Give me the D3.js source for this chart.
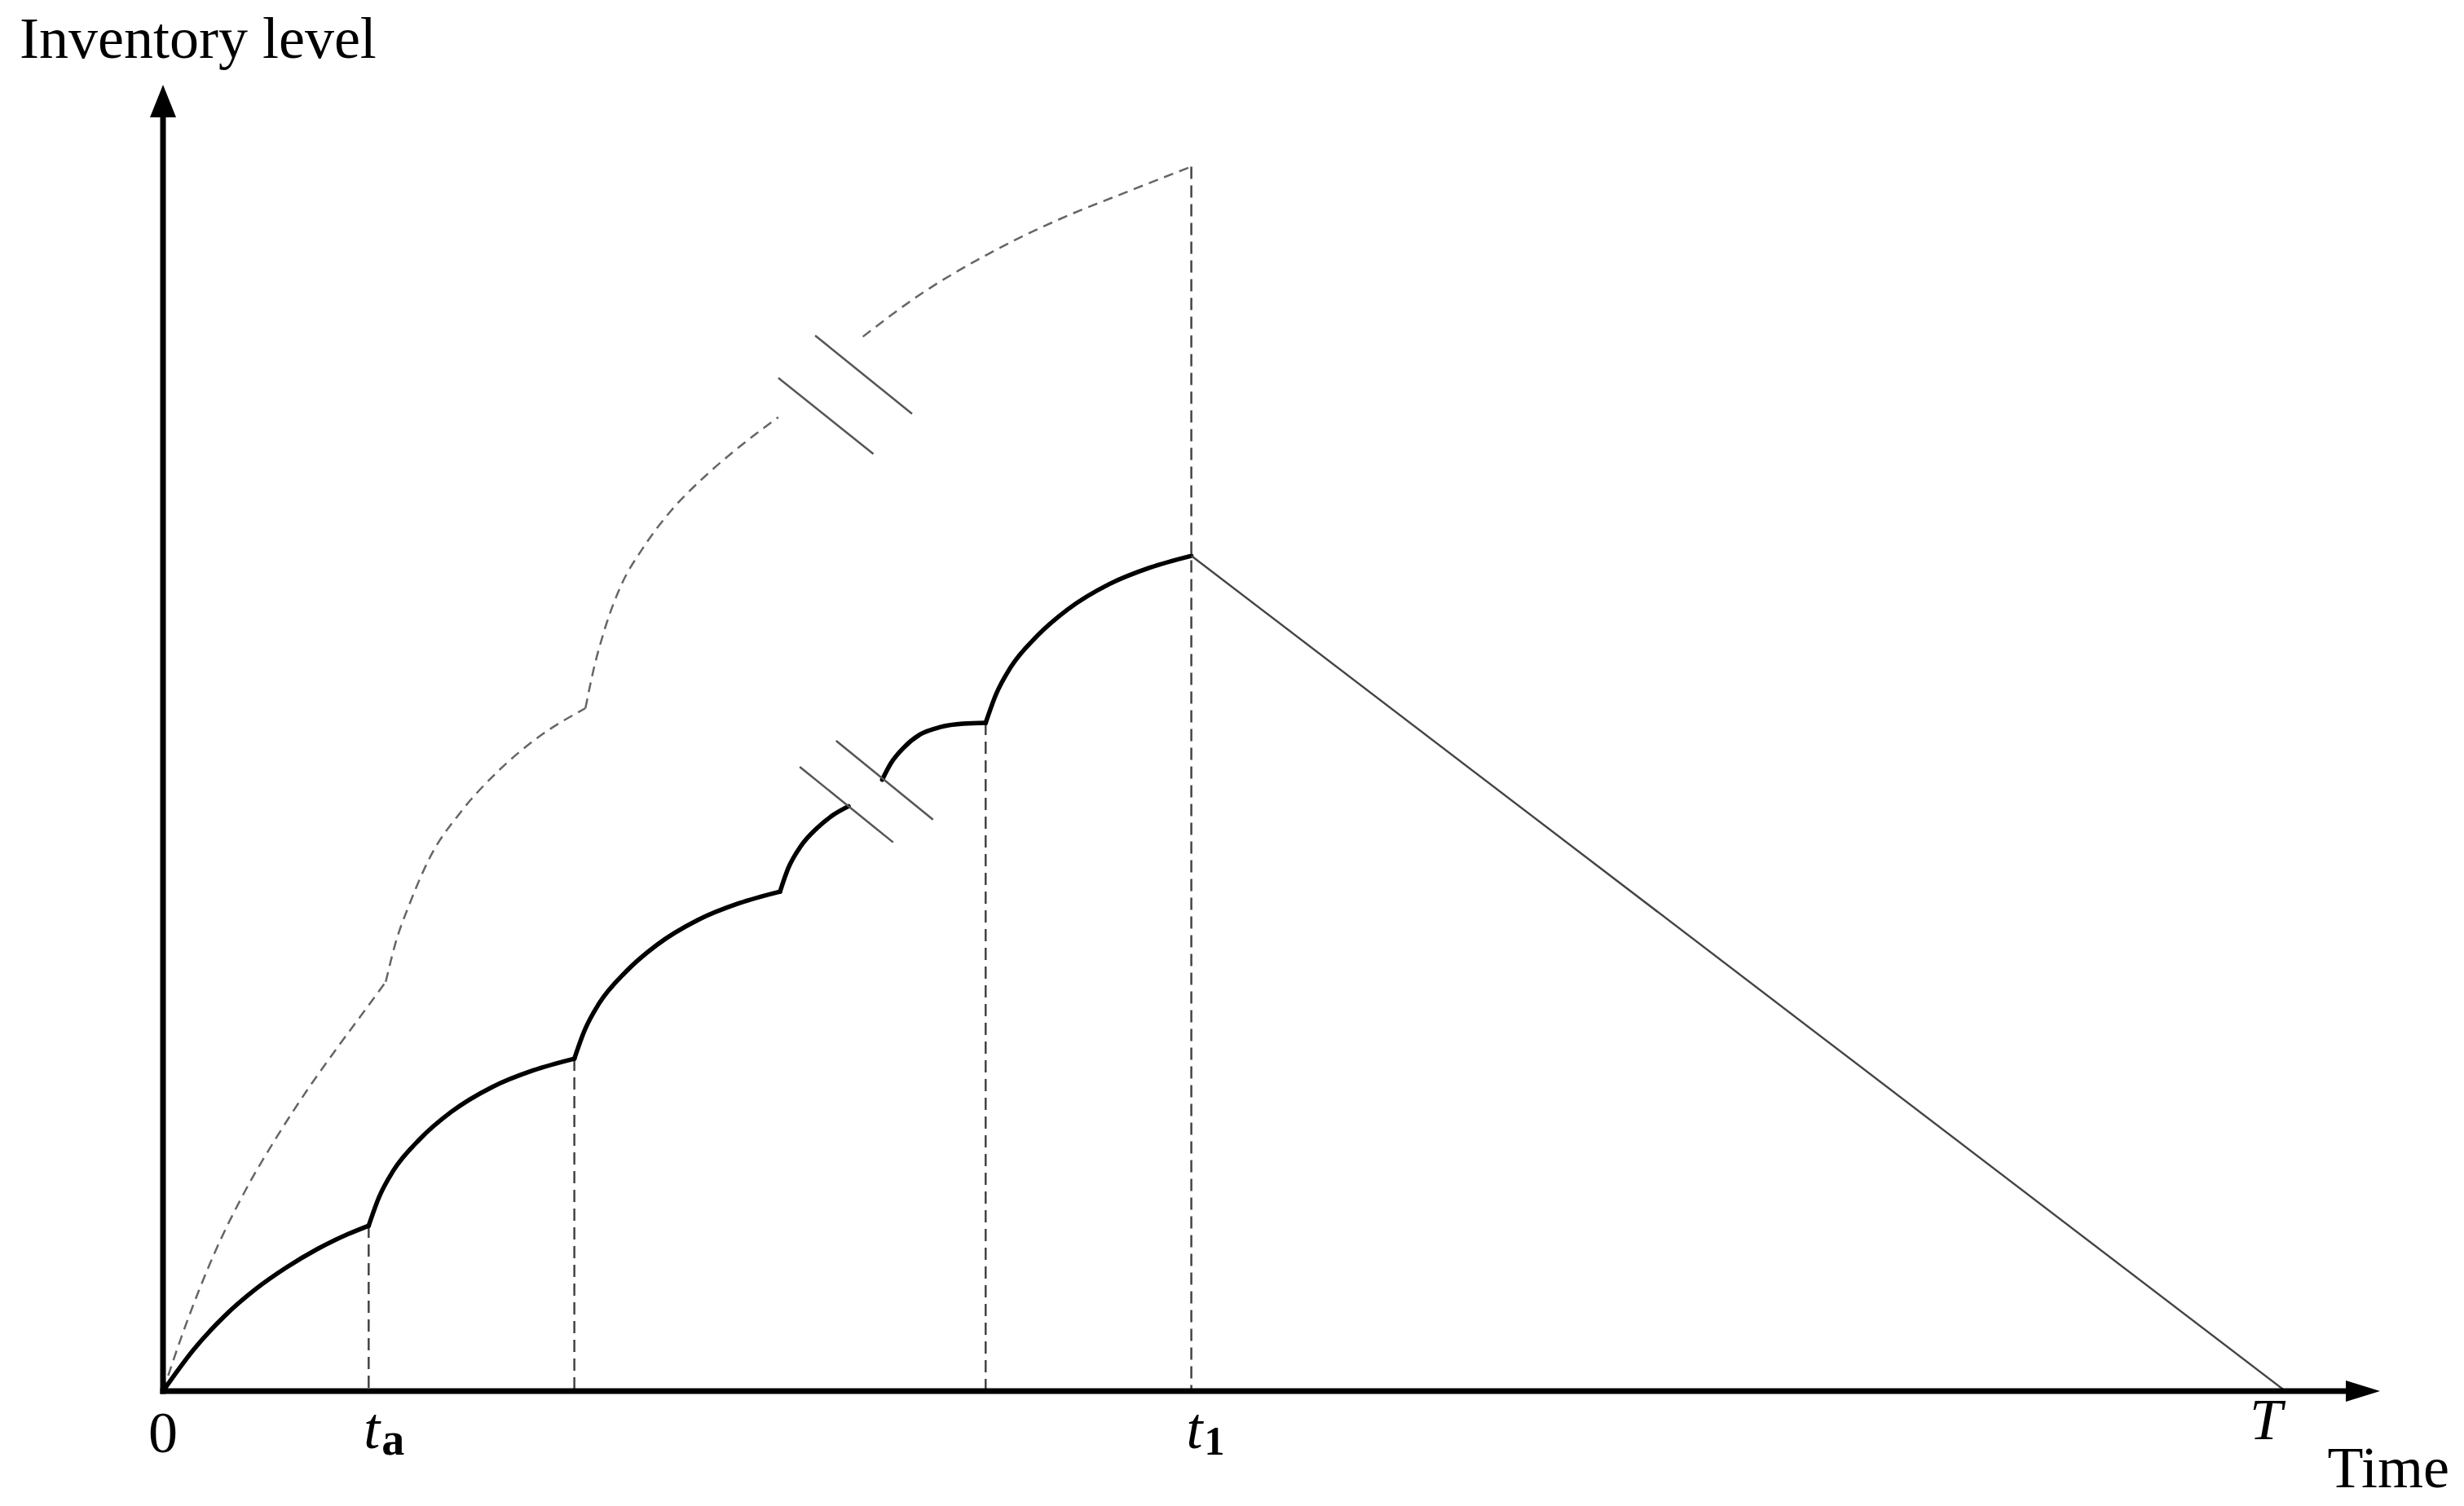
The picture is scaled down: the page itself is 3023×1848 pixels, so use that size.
<!DOCTYPE html>
<html lang="en">
  <head>
    <meta charset="utf-8" />
    <title>Inventory level over time</title>
    <script src="https://d3js.org/d3.v7.min.js"></script>
    <style>
      body { margin: 0; background: #fff; }
      svg { display: block; }
      text { font-family: "Liberation Serif", "Times New Roman", serif; fill: #000; }
    </style>
  </head>
  <body>
    <div id="chart"></div>
    <script>
      // [time, inventory level] (ta = 1 time unit)
      const solidArc1 = [[0, 0], [0.15, 0.25], [0.3, 0.45], [0.45, 0.61], [0.6, 0.74], [0.75, 0.85], [0.9, 0.94], [1, 0.99]];
      const solidArc2 = [[1, 0.99], [1.05, 1.16], [1.12, 1.32], [1.25, 1.51], [1.4, 1.67], [1.6, 1.82], [1.8, 1.92], [2, 1.99]];
      const solidArc3 = [[2, 1.99], [2.05, 2.16], [2.12, 2.32], [2.25, 2.51], [2.4, 2.67], [2.6, 2.82], [2.8, 2.92], [3, 2.99]];
      const solidArc4a = [[3, 2.99], [3.04, 3.13], [3.1, 3.26], [3.18, 3.37], [3.26, 3.45], [3.333, 3.501]];
      const solidArc4b = [[3.497, 3.66], [3.54, 3.76], [3.6, 3.85], [3.68, 3.93], [3.78, 3.975], [3.89, 3.995], [4, 4]];
      const solidArc5 = [[4, 4], [4.05, 4.17], [4.12, 4.33], [4.25, 4.52], [4.4, 4.68], [4.6, 4.83], [4.8, 4.93], [5, 5]];
      const depletion = [[5, 5], [10.32, 0]];

      const dashArcA = [[0, 0], [0.1, 0.36], [0.25, 0.825], [0.4, 1.2], [0.55, 1.515], [0.7, 1.8], [0.85, 2.06], [1.0, 2.31], [1.083, 2.45]];
      const dashArcB = [[1.083, 2.45], [1.13, 2.68], [1.2, 2.92], [1.3, 3.2], [1.45, 3.47], [1.62, 3.7], [1.82, 3.91], [2.054, 4.088]];
      const dashArcC = [[2.054, 4.088], [2.09, 4.3], [2.15, 4.57], [2.23, 4.83], [2.33, 5.04], [2.47, 5.27], [2.63, 5.47], [2.8, 5.65], [2.992, 5.83]];
      const dashArcD = [[3.403, 6.312], [3.676, 6.56], [4.017, 6.81], [4.359, 7.015], [4.7, 7.185], [5, 7.33]];

      // dashed drop lines
      const guideTimes = [1, 2, 4, 5];
      const guideTops = [0.99, 1.99, 4, 7.33];

      // "//" break marks
      const breakMarks = [
        [[3.096, 3.737], [3.55, 3.285]],
        [[3.273, 3.893], [3.744, 3.421]],
        [[2.992, 6.065], [3.454, 5.61]],
        [[3.171, 6.319], [3.642, 5.85]],
      ];

      const tickTimes = [0, 1, 5, 10.32];
      const tickMain = ["0", "t", "t", "T"];
      const tickSub = ["", "a", "1", ""];

      const width = 3023;
      const height = 1848;
      const xMax = 10.78;
      const yMax = 7.82;

      const x = d3.scaleLinear().domain([0, xMax]).range([200, 2920]);
      const y = d3.scaleLinear().domain([0, yMax]).range([1707, 104]);

      const svg = d3
        .select("#chart")
        .append("svg")
        .attr("width", width)
        .attr("height", height);

      svg.append("rect").attr("width", width).attr("height", height).attr("fill", "#fff");

      const line = d3
        .line()
        .x((d) => x(d[0]))
        .y((d) => y(d[1]))
        .curve(d3.curveMonotoneX);

      // guides
      svg
        .selectAll(".guide")
        .data(guideTimes)
        .enter()
        .append("line")
        .attr("class", "guide")
        .attr("x1", (d) => x(d))
        .attr("x2", (d) => x(d))
        .attr("y1", (d, i) => y(guideTops[i]))
        .attr("y2", y(0))
        .attr("stroke", "#444")
        .attr("stroke-width", 2.5)
        .attr("stroke-dasharray", "15,8");

      // upper dashed curve
      svg
        .selectAll(".upper")
        .data([dashArcA, dashArcB, dashArcC, dashArcD])
        .enter()
        .append("path")
        .attr("class", "upper")
        .attr("d", line)
        .attr("fill", "none")
        .attr("stroke", "#666")
        .attr("stroke-width", 2.5)
        .attr("stroke-dasharray", "12,8");

      // solid inventory curve
      svg
        .selectAll(".solid")
        .data([solidArc1, solidArc2, solidArc3, solidArc4a, solidArc4b, solidArc5])
        .enter()
        .append("path")
        .attr("class", "solid")
        .attr("d", line)
        .attr("fill", "none")
        .attr("stroke", "#000")
        .attr("stroke-width", 5.5)
        .attr("stroke-linecap", "round");

      svg
        .append("path")
        .attr("d", d3.line().x((d) => x(d[0])).y((d) => y(d[1]))(depletion))
        .attr("fill", "none")
        .attr("stroke", "#444")
        .attr("stroke-width", 2.4);

      svg
        .selectAll(".brk")
        .data(breakMarks)
        .enter()
        .append("line")
        .attr("class", "brk")
        .attr("x1", (d) => x(d[0][0]))
        .attr("y1", (d) => y(d[0][1]))
        .attr("x2", (d) => x(d[1][0]))
        .attr("y2", (d) => y(d[1][1]))
        .attr("stroke", "#555")
        .attr("stroke-width", 2.5);

      // axes with arrow heads
      const ox = x(0), oy = y(0);
      svg.append("line")
        .attr("x1", ox).attr("y1", oy + 3.5)
        .attr("x2", ox).attr("y2", y(yMax) + 30)
        .attr("stroke", "#000").attr("stroke-width", 7);
      svg.append("path")
        .attr("d", `M${ox},${y(yMax)}L${ox - 16},${y(yMax) + 40}L${ox + 16},${y(yMax) + 40}Z`)
        .attr("fill", "#000");
      svg.append("line")
        .attr("x1", ox - 3.5).attr("y1", oy)
        .attr("x2", x(xMax) - 30).attr("y2", oy)
        .attr("stroke", "#000").attr("stroke-width", 7);
      svg.append("path")
        .attr("d", `M${x(xMax)},${oy}L${x(xMax) - 42},${oy - 13}L${x(xMax) - 42},${oy + 13}Z`)
        .attr("fill", "#000");

      // tick labels
      const lab = svg
        .selectAll(".tick-label")
        .data(tickTimes)
        .enter()
        .append("text")
        .attr("class", "tick-label")
        .attr("x", (d, i) => x(d) + [0, -6, -6, -24][i])
        .attr("y", (d, i) => [1782, 1777, 1777, 1766][i])
        .attr("text-anchor", (d, i) => (i === 0 || i === 3 ? "middle" : "start"))
        .style("font-size", "72px");
      lab
        .append("tspan")
        .style("font-style", (d, i) => (i === 0 ? "normal" : "italic"))
        .text((d, i) => tickMain[i]);
      lab
        .append("tspan")
        .attr("dy", 8)
        .attr("dx", 2)
        .style("font-weight", "bold")
        .style("font-size", (d, i) => (i === 1 ? "56px" : "50px"))
        .text((d, i) => tickSub[i]);

      svg.append("text")
        .attr("x", 24).attr("y", 71)
        .style("font-size", "72px")
        .text("Inventory level");

      svg.append("text")
        .attr("x", 3005).attr("y", 1825)
        .attr("text-anchor", "end")
        .style("font-size", "72px")
        .text("Time");
    </script>
  </body>
</html>
